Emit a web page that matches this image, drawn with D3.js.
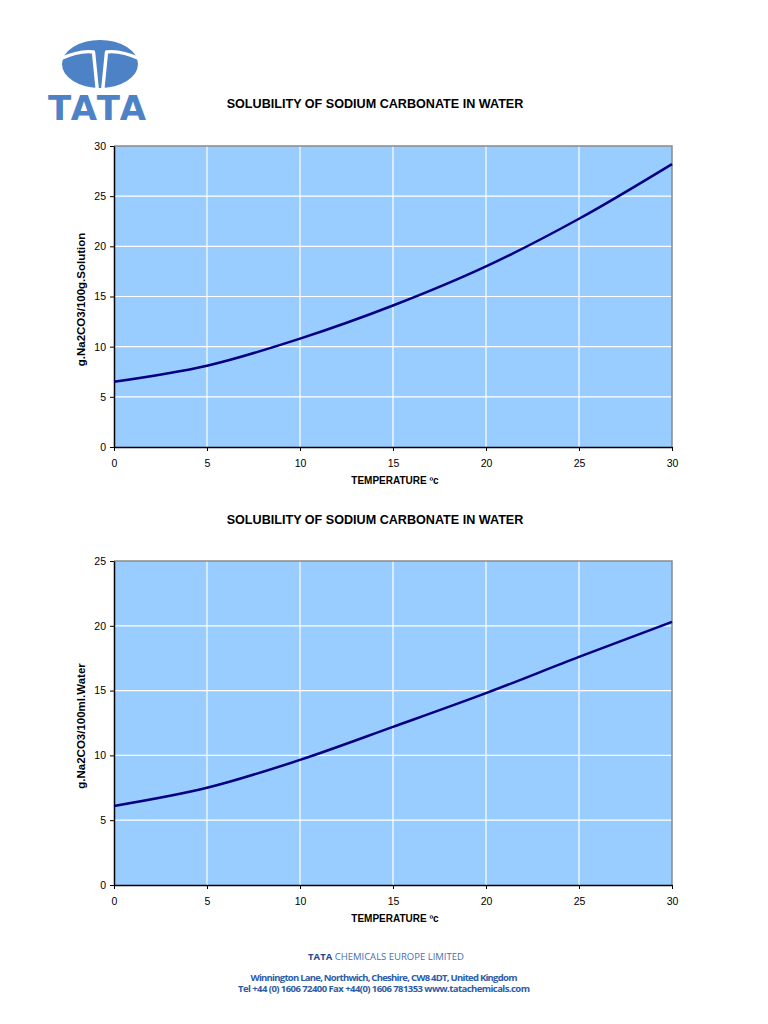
<!DOCTYPE html>
<html>
<head>
<meta charset="utf-8">
<script src="https://cdn.jsdelivr.net/npm/d3@7"></script>
<style>
  body { margin: 0; background: #fff; }
  svg { display: block; font-family: "Liberation Sans", Arial, sans-serif; }
</style>
</head>
<body>
<div id="page"></div>
<script>
// data
var temps = [0, 5, 10, 15, 20, 25, 30];
var perSolution = [6.5, 8.1, 10.8, 14.1, 18.0, 22.75, 28.2];
var perWater = [6.1, 7.5, 9.65, 12.2, 14.8, 17.6, 20.3];
var xTicks = [0, 5, 10, 15, 20, 25, 30];
var yTicksTop = [0, 5, 10, 15, 20, 25, 30];
var yTicksBottom = [0, 5, 10, 15, 20, 25];

var svg = d3.select("#page").append("svg")
  .attr("width", 768)
  .attr("height", 1024);

// --- logo ---
var logoBlue = "#4D82C6";
var logo = svg.append("g").attr("transform", "translate(100, 64)");
logo.append("ellipse").attr("rx", 38).attr("ry", 24).attr("fill", logoBlue);
[1, -1].forEach((s) => {
  logo.append("path")
    .attr("d", "M" + (-40 * s) + ",-5 Q" + (-20 * s) + ",-14 " + (-6.5 * s) + ",-12 L" + (-2.8 * s) + ",25")
    .attr("fill", "none").attr("stroke", "#fff")
    .attr("stroke-width", 3.4).attr("stroke-linejoin", "round");
});
svg.append("text")
  .attr("x", 97).attr("y", 120)
  .attr("text-anchor", "middle")
  .attr("font-size", "34px").attr("font-weight", "bold")
  .attr("font-family", "'DejaVu Sans', sans-serif")
  .attr("fill", logoBlue)
  .attr("textLength", 98)
  .text("TATA");

function drawChart(top, bottom, yMax, yTicks, values, yLabel, titleY) {
  var left = 114, right = 672;
  var x = d3.scaleLinear().domain([0, 30]).range([left, right]);
  var y = d3.scaleLinear().domain([0, yMax]).range([bottom, top]);

  svg.append("text")
    .attr("x", 375).attr("y", titleY)
    .attr("text-anchor", "middle")
    .attr("font-size", "12.6px").attr("font-weight", "bold")
    .text("SOLUBILITY OF SODIUM CARBONATE IN WATER");

  svg.append("rect")
    .attr("x", left).attr("y", top)
    .attr("width", right - left).attr("height", bottom - top)
    .attr("fill", "#99CCFF");

  // grid
  svg.append("g").selectAll("line.h").data(yTicks.slice(1, -1)).enter().append("line")
    .attr("x1", left).attr("x2", right)
    .attr("y1", (d) => y(d)).attr("y2", (d) => y(d))
    .attr("stroke", "#fff").attr("stroke-width", 1.2);
  svg.append("g").selectAll("line.v").data(xTicks.slice(1, -1)).enter().append("line")
    .attr("y1", top).attr("y2", bottom)
    .attr("x1", (d) => x(d)).attr("x2", (d) => x(d))
    .attr("stroke", "#fff").attr("stroke-width", 1.2);

  // frame
  svg.append("path")
    .attr("d", "M" + left + "," + top + "H" + right + "V" + bottom)
    .attr("fill", "none").attr("stroke", "#8a8a8a").attr("stroke-width", 1.5);

  var yAxis = svg.append("g")
    .attr("transform", "translate(" + left + ",0)")
    .call(d3.axisLeft(y).tickValues(yTicks).tickSize(4).tickPadding(4).tickSizeOuter(0));
  var xAxis = svg.append("g")
    .attr("transform", "translate(0," + bottom + ")")
    .call(d3.axisBottom(x).tickValues(xTicks).tickSize(4).tickPadding(9).tickSizeOuter(0));
  [xAxis, yAxis].forEach((a) => {
    a.select(".domain").attr("stroke", "#000").attr("stroke-width", 1.5);
    a.selectAll("text").attr("font-size", "10.5px").attr("font-family", "'Liberation Sans', Arial, sans-serif");
  });
  xAxis.selectAll(".tick line").remove();
  xAxis.selectAll(".tick").append("line").attr("y2", 4).attr("stroke", "#000");

  var line = d3.line()
    .x((d, i) => x(temps[i]))
    .y((d) => y(d))
    .curve(d3.curveCatmullRom.alpha(0.5));
  svg.append("path")
    .datum(values)
    .attr("d", line)
    .attr("fill", "none")
    .attr("stroke", "#000080")
    .attr("stroke-width", 2.5);

  svg.append("text")
    .attr("x", 395).attr("y", bottom + 37)
    .attr("text-anchor", "middle")
    .attr("font-size", "10px").attr("font-weight", "bold")
    .text("TEMPERATURE ºc");

  svg.append("text")
    .attr("transform", "translate(85," + ((top + bottom) / 2 + 3) + ") rotate(-90)")
    .attr("text-anchor", "middle")
    .attr("font-size", "11.5px").attr("font-weight", "bold")
    .text(yLabel);
}

drawChart(146, 447, 30, yTicksTop, perSolution, "g.Na2CO3/100g.Solution", 108);
drawChart(561, 885, 25, yTicksBottom, perWater, "g.Na2CO3/100ml.Water", 524);

// --- footer ---
var foot = svg.append("g").attr("font-family", "'Open Sans', 'Noto Sans', sans-serif");
var l1 = foot.append("text").attr("x", 386).attr("y", 960)
  .attr("text-anchor", "middle").attr("font-size", "9.5px");
l1.append("tspan").attr("font-weight", "bold").attr("fill", "#1F4B93").text("TATA ");
l1.append("tspan").attr("fill", "#3F6FB5").text("CHEMICALS EUROPE LIMITED");
foot.append("text").attr("x", 384).attr("y", 981)
  .attr("text-anchor", "middle").attr("font-size", "9.5px").attr("font-weight", "bold")
  .attr("fill", "#2E5CA8").attr("textLength", 267)
  .text("Winnington Lane, Northwich, Cheshire, CW8 4DT, United Kingdom");
foot.append("text").attr("x", 384).attr("y", 992)
  .attr("text-anchor", "middle").attr("font-size", "9.5px").attr("font-weight", "bold")
  .attr("fill", "#2E5CA8").attr("textLength", 292)
  .text("Tel +44 (0) 1606 72400  Fax +44(0) 1606 781353  www.tatachemicals.com");
</script>
</body>
</html>
